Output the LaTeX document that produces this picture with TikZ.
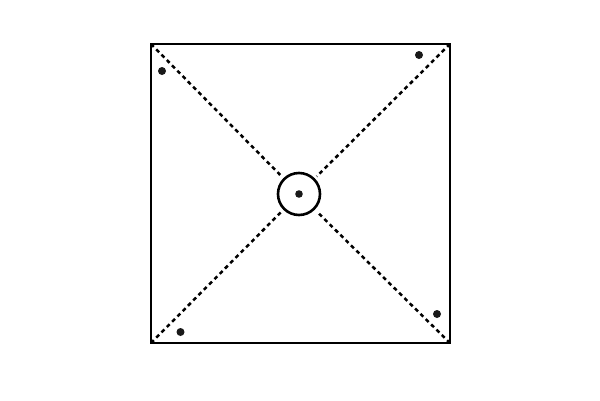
\documentclass[tikz,border=0pt]{standalone}
\usetikzlibrary{calc}
\begin{document}
\begin{tikzpicture}[x=1pt,y=-1pt,
  frame/.style={line width=2.7pt,line join=miter},
  diag/.style={line width=2.5pt,dash pattern=on 4pt off 3.5pt},
  ring/.style={line width=2.6pt},
  spot/.style={fill=black!90}]
\useasboundingbox (0,0) rectangle (600,400);
\coordinate (A) at (151,44);
\coordinate (B) at (450,44);
\coordinate (C) at (450,343);
\coordinate (D) at (151,343);
\draw[frame] (A) -- (B) -- (C) -- (D) -- cycle;
\node[circle,draw,ring,minimum size=42pt,inner sep=0pt] (O) at (299,194) {};
\draw[diag] (A) -- ($(O)!25pt!(A)$);
\draw[diag] (B) -- ($(O)!25pt!(B)$);
\draw[diag] (C) -- ($(O)!25pt!(C)$);
\draw[diag] (D) -- ($(O)!25pt!(D)$);
\fill[spot] (O) circle (3.8pt);
\fill[spot] (162,71) circle (4pt);
\fill[spot] (419,55) circle (4pt);
\fill[spot] (180.5,332) circle (4pt);
\fill[spot] (437,314) circle (4pt);
\end{tikzpicture}
\end{document}
